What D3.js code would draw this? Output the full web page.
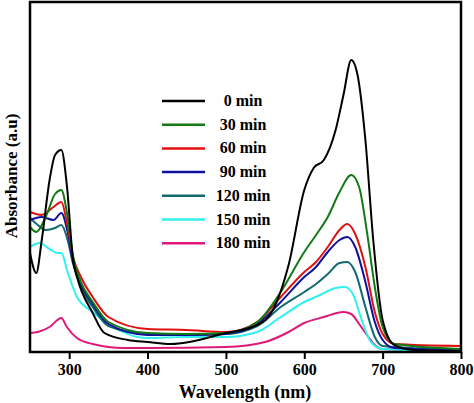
<!DOCTYPE html>
<html><head><meta charset="utf-8">
<script src="https://cdn.jsdelivr.net/npm/d3@7"></script>
<style>body{margin:0;background:#fff} svg text{font-family:"Liberation Serif","Times New Roman","DejaVu Serif",serif !important;font-weight:bold}</style></head>
<body><div id="chart"></div>
<script>
const width = 474, height = 403
const margin = {top: 2, right: 13, bottom: 51, left: 30}

const labels = ["0 min", "30 min", "60 min", "90 min", "120 min", "150 min", "180 min"]
const colors = ["#000000", "#127a12", "#e01010", "#10109c", "#106a70", "#30f0f0", "#e0187a"]
const xTicks = [300, 400, 500, 600, 700, 800]

const s0 = [[250,99],[258,79],[265,112],[275,172],[282,197],[290,202],[297,167],[305,92],[310,75],[330,39],[345,19],[375,12],[400,10],[430,8],[500,19],[540,27],[560,42],[580,87],[600,162],[612,184],[625,192],[640,222],[650,257],[660,292],[668,277],[678,212],[688,112],[700,32],[715,7],[740,2],[800,1]]
const s30 = [[250,125],[258,120],[270,135],[282,158],[290,162],[297,140],[305,95],[315,70],[330,50],[350,30],[400,19],[450,18],[500,19],[540,30],[570,60],[600,100],[615,117],[630,135],[645,160],[660,177],[670,165],[680,120],[690,65],[700,25],[715,8],[800,3]]
const s60 = [[250,140],[265,137],[280,145],[290,150],[297,130],[305,95],[315,75],[330,55],[350,35],[400,23],[450,22],[500,20],[540,30],[570,55],[600,80],[615,90],[630,105],[645,122],[655,128],[665,118],[678,85],[690,40],[700,18],[715,8],[800,6]]
const s90 = [[250,132],[265,135],[280,132],[290,139],[298,120],[305,90],[315,68],[330,48],[350,28],[400,17],[450,17],[500,18],[540,28],[570,50],[600,75],[615,85],[630,100],[645,112],[655,115],[665,105],[678,70],[690,30],[700,12],[715,4],[800,2]]
const s120 = [[250,134],[260,127],[270,122],[282,124],[290,127],[298,112],[305,88],[315,65],[330,45],[350,26],[400,18],[450,17],[500,18],[540,26],[570,45],[600,60],[615,68],[630,78],[645,89],[655,90],[665,80],[678,45],[690,15],[700,6],[800,2]]
const s150 = [[250,105],[262,109],[275,103],[285,99],[290,99],[298,80],[310,55],[330,40],[350,28],[400,14],[450,15],[500,15],[540,20],[570,35],[600,50],[620,57],[640,64],[652,65],[662,58],[672,35],[685,10],[700,3],[800,1]]
const s180 = [[250,19],[260,20],[275,25],[290,34],[297,25],[310,14],[330,8],[370,4],[400,4],[500,5],[550,10],[580,20],[600,29],[625,35],[650,40],[660,38],[670,28],[680,17],[690,7],[700,3],[800,1]]
const series = [s0, s30, s60, s90, s120, s150, s180]

const svg = d3.select("#chart").append("svg").attr("width", width).attr("height", height)

const x = d3.scaleLinear().domain([250, 800]).range([margin.left, width - margin.right])
const y = d3.scaleLinear().domain([0, 350]).range([height - margin.bottom, margin.top])

const line = d3.line().x(d => x(d[0])).y(d => y(d[1])).curve(d3.curveMonotoneX)

// draw from last to first so black ends on top
series.slice().reverse().forEach((s, i) => {
  const k = series.length - 1 - i
  svg.append("path").datum(s).attr("d", line)
    .attr("fill", "none").attr("stroke", colors[k]).attr("stroke-width", 2)
})

svg.append("rect").attr("x", margin.left).attr("y", margin.top)
  .attr("width", width - margin.left - margin.right).attr("height", height - margin.top - margin.bottom)
  .attr("fill", "none").attr("stroke", "#000").attr("stroke-width", 2.5)

svg.append("g").attr("transform", `translate(0,${height - margin.bottom})`)
  .call(d3.axisBottom(x).tickValues(xTicks).tickSize(7).tickPadding(5))
  .call(g => g.select(".domain").remove())
  .call(g => g.selectAll("line").attr("stroke-width", 2))
  .call(g => g.selectAll("text").attr("font-size", 16))

svg.append("text").attr("x", 245).attr("y", 398).attr("text-anchor", "middle")
  .attr("font-size", 18).text("Wavelength (nm)")
svg.append("text").attr("transform", "translate(17,176) rotate(-90)").attr("text-anchor", "middle")
  .attr("font-size", 17).text("Absorbance (a.u)")

const leg = svg.append("g")
labels.forEach((l, i) => {
  const yy = 101 + i * 23.7
  leg.append("line").attr("x1", 162).attr("x2", 205).attr("y1", yy).attr("y2", yy)
    .attr("stroke", colors[i]).attr("stroke-width", 2.5)
  leg.append("text").attr("x", 243).attr("y", yy + 5).attr("text-anchor", "middle")
    .attr("font-size", 16).text(l)
})
</script></body></html>
